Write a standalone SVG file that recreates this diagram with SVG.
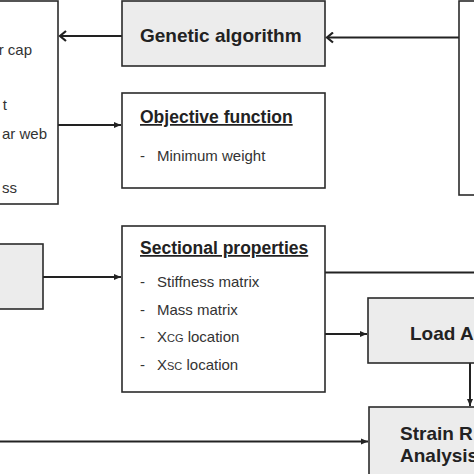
<svg xmlns="http://www.w3.org/2000/svg" width="474" height="474" viewBox="0 0 474 474">
<style>
.box{fill:#fff;stroke:#2b2b2b;stroke-width:1.6}
.gbox{fill:#ececec;stroke:#2b2b2b;stroke-width:1.6}
.head{font-family:"Liberation Sans",Arial,sans-serif;font-weight:bold;font-size:19px;fill:#222}
.sub{font-family:"Liberation Sans",Arial,sans-serif;font-weight:bold;font-size:17.5px;fill:#222;text-decoration:underline}
.item{font-family:"Liberation Sans",Arial,sans-serif;font-size:15px;fill:#333}
.conn{stroke:#222;stroke-width:2;fill:none}
</style>
<defs>
<marker id="chev" markerWidth="10" markerHeight="12" refX="8" refY="6" orient="auto" markerUnits="userSpaceOnUse">
<path d="M2,1 L8,6 L2,11" fill="none" stroke="#222" stroke-width="2.2"/>
</marker>
<marker id="tri" markerWidth="8" markerHeight="8" refX="7" refY="4" orient="auto" markerUnits="userSpaceOnUse">
<path d="M0,1 L7,4 L0,7 Z" fill="#222"/>
</marker>
</defs>
<g id="connectors">
<line class="conn" x1="122" y1="36" x2="60" y2="36" marker-end="url(#chev)"/>
<line class="conn" x1="459" y1="37.5" x2="327" y2="37.5" marker-end="url(#chev)"/>
<line class="conn" x1="58" y1="125" x2="121" y2="125" marker-end="url(#tri)"/>
<line class="conn" x1="43" y1="277" x2="121" y2="277" marker-end="url(#tri)"/>
<line class="conn" x1="325" y1="272.5" x2="474" y2="272.5"/>
<line class="conn" x1="325" y1="334" x2="367" y2="334" marker-end="url(#tri)"/>
<line class="conn" x1="470" y1="363" x2="470" y2="406" marker-end="url(#tri)"/>
<line class="conn" x1="0" y1="441.5" x2="368" y2="441.5" marker-end="url(#tri)"/>
</g>
<g id="design-variables">
<rect class="box" x="-5" y="1" width="63" height="203"/>
<text class="item" x="32" y="55" text-anchor="end">r cap</text>
<text class="item" x="7" y="110" text-anchor="end">t</text>
<text class="item" x="47" y="139" text-anchor="end">ar web</text>
<text class="item" x="17" y="193" text-anchor="end">ss</text>
</g>
<g id="genetic-algorithm">
<rect class="gbox" x="122" y="1" width="203" height="65"/>
<text class="head" x="140" y="42">Genetic algorithm</text>
</g>
<g id="right-box">
<rect class="box" x="459" y="1" width="30" height="194"/>
</g>
<g id="objective-function">
<rect class="box" x="122" y="93" width="203" height="95"/>
<text class="sub" x="140" y="123">Objective function</text>
<text class="item" x="140" y="161">-</text>
<text class="item" x="157" y="161">Minimum weight</text>
</g>
<g id="left-gray-box">
<rect class="gbox" x="-5" y="244" width="48" height="65"/>
</g>
<g id="sectional-properties">
<rect class="box" x="122" y="226" width="203" height="166"/>
<text class="sub" x="140" y="254">Sectional properties</text>
<text class="item" x="140" y="287">-</text>
<text class="item" x="157" y="287">Stiffness matrix</text>
<text class="item" x="140" y="315">-</text>
<text class="item" x="157" y="315">Mass matrix</text>
<text class="item" x="140" y="342">-</text>
<text class="item" x="157" y="342">X<tspan font-size="11">CG</tspan> location</text>
<text class="item" x="140" y="370">-</text>
<text class="item" x="157" y="370">X<tspan font-size="11">SC</tspan> location</text>
</g>
<g id="load-analysis">
<rect class="gbox" x="368" y="298" width="130" height="65"/>
<text class="head" x="410" y="340">Load Analysis</text>
</g>
<g id="strain-analysis">
<rect class="gbox" x="369" y="407" width="130" height="80"/>
<text class="head" x="400" y="440">Strain R</text>
<text class="head" x="400" y="462">Analysis</text>
</g>
</svg>
